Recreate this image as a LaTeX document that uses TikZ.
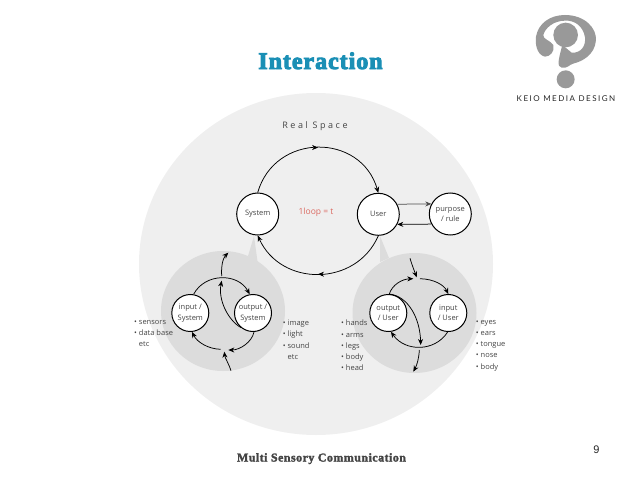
\documentclass[tikz,border=0pt]{standalone}
\usepackage{fontspec}
\setmainfont{Open Sans}
\newfontfamily\fatserif[FakeBold=4,LetterSpace=4]{Liberation Serif Bold}
\newfontfamily\fatserifb[FakeBold=2,LetterSpace=3.8]{Liberation Serif Bold}
\newfontfamily\arialf{Liberation Sans}
\newfontfamily\spacedf[LetterSpace=28]{Open Sans}
\newfontfamily\logof[LetterSpace=18.6]{Lato}
\usetikzlibrary{arrows.meta,decorations.markings}
\definecolor{spacegrey}{HTML}{EFEFEF}
\definecolor{zonegrey}{HTML}{DCDCDC}
\definecolor{labelgrey}{HTML}{444444}
\definecolor{logogrey}{HTML}{999999}
\definecolor{titleblue}{HTML}{1A8FB5}
\definecolor{loopred}{HTML}{DB6A62}
\tikzset{
  bigstate/.style={circle,draw=black,fill=white,line width=1pt,minimum size=42pt,inner sep=0pt,align=center,font=\fontsize{7.5}{10}\selectfont,text=labelgrey},
  smallstate/.style={bigstate,minimum size=37pt,font=\fontsize{7.5}{10.5}\selectfont},
  listtext/.style={anchor=north west,inner sep=0pt,align=left,text=labelgrey,font=\fontsize{7.5}{11.2}\selectfont},
  flow/.style={draw=black,line width=0.75pt,-{Stealth[length=6pt,width=5pt]}},
  midflow/.style={postaction={decorate},decoration={markings,mark=at position #1 with {\arrow{Stealth[length=6pt,width=5pt]}}}},
}
\begin{document}
\begin{tikzpicture}[x=1pt,y=-1pt]
\useasboundingbox (0,0) rectangle (638,479);
% backgrounds
\fill[spacegrey] (316,264) ellipse [x radius=177,y radius=171];
\fill[zonegrey] (223,311) ellipse [x radius=62,y radius=60];
\fill[zonegrey] (414.5,313) ellipse [x radius=62,y radius=60];
\fill[zonegrey] (254,236) -- (248,256) -- (258,265) -- cycle;
\fill[zonegrey] (380,236) -- (380,262) -- (389,258) -- cycle;
% titles
\node[inner sep=0pt,anchor=base,text=titleblue,font=\fatserif\fontsize{24}{24}\selectfont] (title) at (320.5,69) {Interaction};
\node[inner sep=0pt,anchor=base,text=labelgrey,font=\fatserifb\fontsize{12}{12}\selectfont] (footer) at (321.5,461.5) {Multi Sensory Communication};
\node[inner sep=0pt,anchor=base,font=\arialf\fontsize{11}{12}\selectfont,text=black!85] (pagenum) at (596.5,453) {9};
% logo
\begin{scope}[shift={(500,0)},x=0.3333pt,y=-0.3333pt]
\fill[logogrey] (135,170) .. controls (110,165) and (105,130) .. (108,110)
  .. controls (115,70) and (150,45) .. (195,45)
  .. controls (255,45) and (290,85) .. (288,120)
  .. controls (285,165) and (245,185) .. (222,190)
  .. controls (205,195) and (205,205) .. (185,203)
  .. controls (170,200) and (175,180) .. (187,135)
  -- (215,158)
  .. controls (245,160) and (258,135) .. (255,112)
  .. controls (250,80) and (225,60) .. (195,62)
  .. controls (160,62) and (135,85) .. (130,105)
  .. controls (128,118) and (150,120) .. (160,135)
  .. controls (165,155) and (150,170) .. (135,170) -- cycle;
\fill[logogrey] (197,105) circle [radius=37];
\fill[logogrey] (197,238) circle [radius=27];
\end{scope}
\node[inner sep=0pt,text=black!85,font=\logof\fontsize{8}{9}\selectfont] (logotext) at (566,99) {KEIO MEDIA DESIGN};
% labels
\node[inner sep=0pt,text=labelgrey,font=\spacedf\fontsize{9}{10}\selectfont] (realspace) at (315,126) {Real Space};
\node[inner sep=0pt,text=loopred,font=\fontsize{8.5}{10}\selectfont] (loop) at (316,212.5) {1loop = t};
% states
\node[bigstate] (sys) at (257.7,214) {System};
\node[bigstate] (usr) at (378.3,214.3) {User};
\node[bigstate] (pur) at (450.3,214) {purpose\\/ rule};
\node[smallstate] (isys) at (190.3,313) {input /\\System};
\node[smallstate] (osys) at (253,313) {output /\\System};
\node[smallstate] (ousr) at (388.3,313) {output\\/ User};
\node[smallstate] (iusr) at (448.3,313) {input\\/ User};
% free ends
\coordinate (jl1) at (228.3,350);
\coordinate (jl2) at (220.7,349.3);
\coordinate (jl3) at (231,370.7);
\coordinate (jl4) at (224.3,351.7);
\coordinate (jl5) at (221.7,276);
\coordinate (jl6) at (228.3,252.7);
\coordinate (jl7) at (221.7,280.7);
\coordinate (jr1) at (413.3,278.7);
\coordinate (jr2) at (420,278.7);
\coordinate (jr3) at (410,258.3);
\coordinate (jr4) at (416.7,277.3);
\coordinate (jr5) at (420.7,345);
\coordinate (jr6) at (419.3,350);
\coordinate (jr7) at (413.3,371.7);
% main loop
\draw[flow,midflow=0.5] (sys.north) .. controls (275,132.5) and (361,132.5) .. (usr.north);
\draw[flow,midflow=0.5] (usr.south) .. controls (356,287) and (281,287) .. (sys.south);
\draw[flow,draw=black!70] (usr.28) -- (pur.152);
\draw[flow] (pur.208) -- (usr.-28);
% left zone
\draw[flow] (isys.80) .. controls (205,272.7) and (238,272.7) .. (osys.100);
\draw[flow] (osys.-87) .. controls (252,342) and (240,350) .. (jl1);
\draw[flow] (jl2) .. controls (208,349) and (197,342) .. (isys.-85);
\draw[flow] (jl3) .. controls (228,362) and (225,358) .. (jl4);
\draw[flow] (jl5) .. controls (221,266) and (223,258) .. (jl6);
\draw[flow] (osys.-130) .. controls (228,320) and (218,300) .. (jl7);
% right zone
\draw[flow] (ousr.87) .. controls (392,285) and (402,279) .. (jr1);
\draw[flow] (jr2) .. controls (434,279) and (444,285) .. (iusr.90);
\draw[flow] (jr3) .. controls (412,265) and (414,270) .. (jr4);
\draw[flow] (iusr.-92) .. controls (435,352) and (405,352) .. (ousr.-82);
\draw[flow] (ousr.87) .. controls (408,296) and (420,318) .. (jr5);
\draw[flow] (jr6) .. controls (419,358) and (417,365) .. (jr7);
% lists
\node[listtext] (listsys) at (134,320) {• sensors\\• data base\\\phantom{• }etc};
\node[listtext] (listout) at (282.7,320) {• image\\• light\\• sound\\\phantom{• }etc};
\node[listtext] (listbody) at (341,320) {• hands\\• arms\\• legs\\• body\\• head};
\node[listtext] (listsense) at (475.7,320) {• eyes\\• ears\\• tongue\\• nose\\• body};
\end{tikzpicture}
\end{document}
